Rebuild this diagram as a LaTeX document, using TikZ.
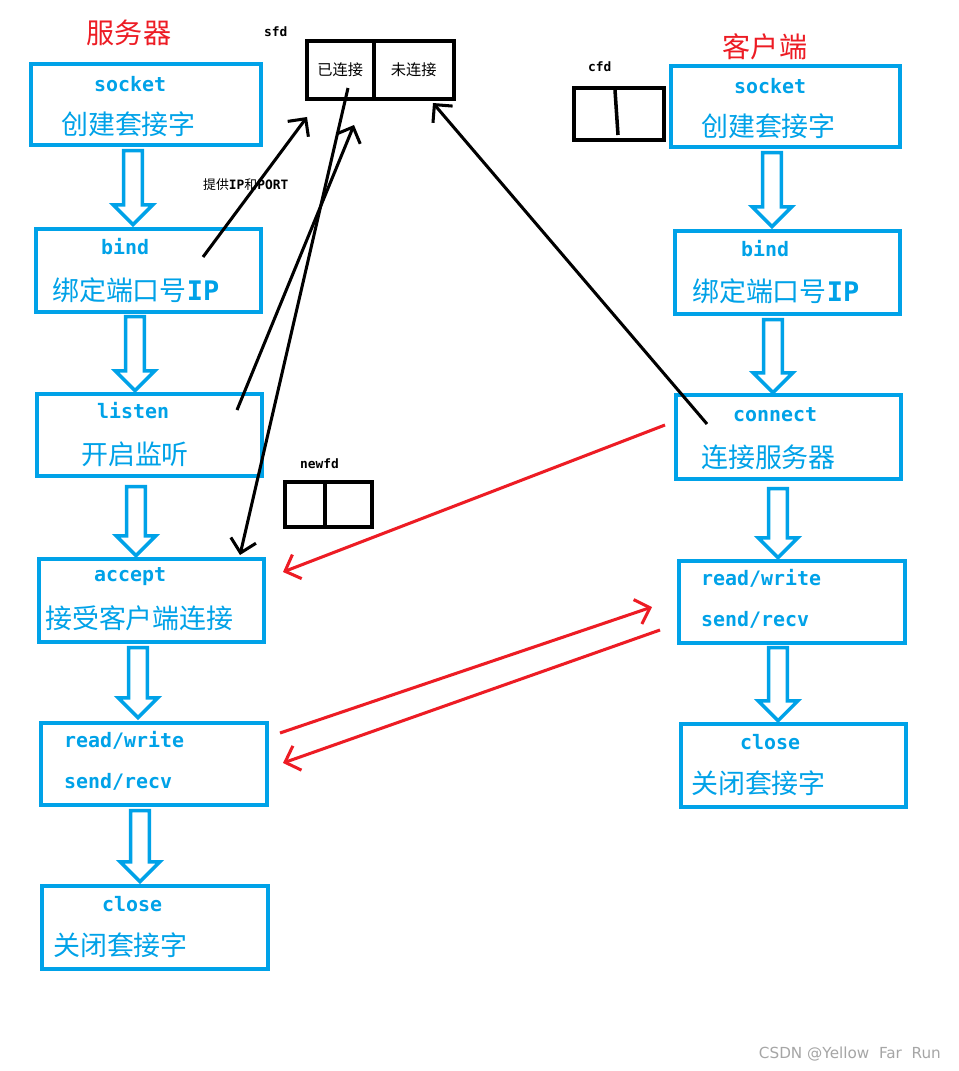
\documentclass[tikz,border=0pt]{standalone}
\usepackage{fontspec}
\setmainfont{DejaVu Sans}
\newfontfamily\cjk{Noto Sans CJK SC}
\newfontfamily\mono{DejaVu Sans Mono}
\usetikzlibrary{arrows.meta,shapes.arrows}
\definecolor{pblue}{HTML}{00A2E8}
\definecolor{pred}{HTML}{ED1C24}
\tikzset{
  box/.style={draw=pblue, line width=3.2pt, anchor=north west, inner sep=0pt},
  en/.style={text=pblue, font=\mono\bfseries\fontsize{17}{17}\selectfont, anchor=west},
  zh/.style={text=pblue, font=\cjk\fontsize{23}{23}\selectfont, anchor=west},
  harrow/.style={single arrow, draw=pblue, line width=3pt, fill=white,
    shape border rotate=270, minimum width=34pt, single arrow head extend=5pt,
    single arrow head indent=0pt, inner sep=3pt},
  cell/.style={draw=black, line width=3pt, anchor=north west, inner sep=0pt},
  blk/.style={black, line width=2.6pt, -{Straight Barb[length=11pt,width=22pt]}},
  rd/.style={pred, line width=2.6pt, -{Straight Barb[length=11pt,width=22pt]}},
  lbl/.style={font=\mono\bfseries\fontsize{11}{11}\selectfont, anchor=west},
}
\newcommand{\bx}[6]{% name, x1,y1,x2,y2
  \node[box, minimum width=(#4-#2)*0.03cm, minimum height=(#5-#3)*0.03cm] (#1) at (#2,#3) {};}
\newcommand{\ha}[4]{% name,x,y1,y2
  \node[harrow, minimum height=(#4-#3)*0.03cm] (#1) at (#2,{(#3+#4)/2}) {};}
\begin{document}
\begin{tikzpicture}[x=0.03cm,y=-0.03cm]
\useasboundingbox[fill=white] (0,0) rectangle (959,1071);
% titles
\node[pred, font=\cjk\fontsize{24}{24}\selectfont] (ts) at (129,33) {服务器};
\node[pred, font=\cjk\fontsize{24}{24}\selectfont] (tc) at (765,47) {客户端};
% server boxes
\bx{s1}{29}{62}{259}{143}{}
\bx{s2}{34}{227}{259}{310}{}
\bx{s3}{35}{392}{260}{474}{}
\bx{s4}{37}{557}{262}{640}{}
\bx{s5}{39}{721}{265}{803}{}
\bx{s6}{40}{884}{266}{967}{}
\node[en] (s1a) at (90,84) {socket};
\node[zh] (s1b) at (57,124) {创建套接字};
\node[en] (s2a) at (97,247) {bind};
\node[zh] (s2b) at (48,290) {绑定端口号\mono\bfseries IP};
\node[en] (s3a) at (93,411) {listen};
\node[zh] (s3b) at (77,454) {开启监听};
\node[en] (s4a) at (90,577) {accept};
\node[zh] (s4b) at (41,618) {接受客户端连接};
\node[en] (s5a) at (60,740) {read/write};
\node[en] (s5b) at (60,782) {send/recv};
\node[en] (s6a) at (98,904) {close};
\node[zh] (s6b) at (49,945) {关闭套接字};
% client boxes
\bx{c1}{669}{64}{898}{145}{}
\bx{c2}{673}{229}{898}{312}{}
\bx{c3}{674}{393}{899}{477}{}
\bx{c4}{677}{559}{903}{641}{}
\bx{c5}{679}{722}{904}{805}{}
\node[en] (c1a) at (730,86) {socket};
\node[zh] (c1b) at (697,126) {创建套接字};
\node[en] (c2a) at (737,249) {bind};
\node[zh] (c2b) at (688,291) {绑定端口号\mono\bfseries IP};
\node[en] (c3a) at (729,415) {connect};
\node[zh] (c3b) at (697,457) {连接服务器};
\node[en] (c4a) at (697,578) {read/write};
\node[en] (c4b) at (697,620) {send/recv};
\node[en] (c5a) at (736,742) {close};
\node[zh] (c5b) at (687,783) {关闭套接字};
% hollow arrows
\ha{h1}{133}{146}{220}
\ha{h2}{135}{312}{386}
\ha{h3}{136}{482}{551}
\ha{h4}{138}{643}{713}
\ha{h5}{140}{806}{877}
\ha{h6}{772}{148}{222}
\ha{h7}{773}{315}{388}
\ha{h8}{778}{484}{553}
\ha{h9}{778}{643}{716}
% sfd
\node[lbl] (sfdl) at (260,32) {sfd};
\node[cell, minimum width=67*0.03cm, minimum height=58*0.03cm] (sa) at (305,39) {};
\node[cell, minimum width=80*0.03cm, minimum height=58*0.03cm] (sb) at (372,39) {};
\node[font=\cjk\fontsize{13}{13}\selectfont] (sat) at (sa.center) {已连接};
\node[font=\cjk\fontsize{13}{13}\selectfont] (sbt) at (sb.center) {未连接};
% cfd
\node[lbl] (cfdl) at (584,67) {cfd};
\node[cell, minimum width=90*0.03cm, minimum height=52*0.03cm] (cf) at (572,86) {};
\coordinate (cf1) at (615,90); \coordinate (cf2) at (618,135);
\draw[line width=3pt] (cf1) -- (cf2);
% newfd
\node[lbl] (nfl) at (296,464) {newfd};
\node[cell, minimum width=40*0.03cm, minimum height=45*0.03cm] (na) at (283,480) {};
\node[cell, minimum width=47*0.03cm, minimum height=45*0.03cm] (nb) at (323,480) {};
% black arrows
\node[font=\cjk\fontsize{11}{11}\selectfont, anchor=west] (ipl) at (199,185) {提供\mono\bfseries IP\cjk\mdseries 和\mono\bfseries PORT};
\coordinate (b1) at (203,257); \coordinate (b2) at (307,117);
\draw[blk] (b1) -- (b2);
\coordinate (l1) at (237,410); \coordinate (l2) at (354,125);
\draw[blk] (l1) -- (l2);
\coordinate (a1) at (348,88); \coordinate (a2) at (240,555);
\draw[blk] (a1) -- (a2);
\coordinate (k1) at (707,424); \coordinate (k2) at (433,103);
\draw[blk] (k1) -- (k2);
% red arrows
\coordinate (r1) at (665,425); \coordinate (r2) at (283,572);
\draw[rd] (r1) -- (r2);
\coordinate (r3) at (280,733); \coordinate (r4) at (652,607);
\draw[rd] (r3) -- (r4);
\coordinate (r5) at (660,630); \coordinate (r6) at (283,763);
\draw[rd] (r5) -- (r6);
% watermark
\node[gray!70, font=\fontsize{13}{13}\selectfont, anchor=east] (wm) at (945,1054) {CSDN @Yellow\ \ Far\ \ Run};
\end{tikzpicture}
\end{document}
